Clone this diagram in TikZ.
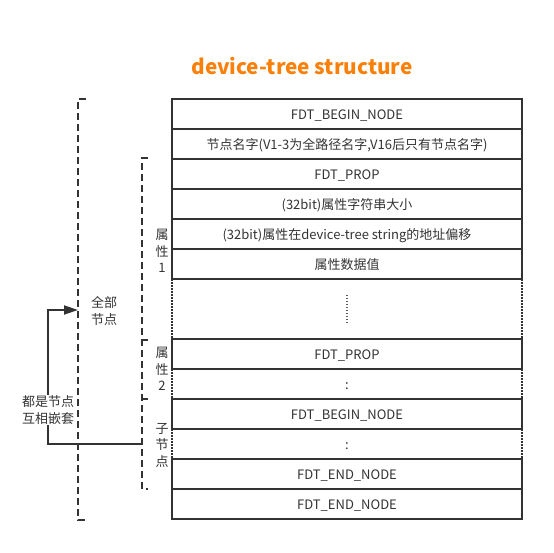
\documentclass[tikz,border=0pt]{standalone}
\usepackage{fontspec}
\setmainfont{Noto Sans CJK SC}
\usetikzlibrary{arrows.meta}
\definecolor{ink}{RGB}{51,51,51}
\definecolor{titleorange}{RGB}{250,128,10}
\begin{document}
\begin{tikzpicture}[x=1pt,y=-1pt,
  txt/.style={font=\fontsize{13}{16.5}\selectfont,text=ink,inner sep=1pt,align=center},
  row/.style={txt,minimum width=350pt,minimum height=30pt,inner sep=0pt,outer sep=0pt,anchor=north west,text height=11pt,text depth=0pt},
  solidrow/.style={row,draw=ink,line width=1.8pt},
  sidedot/.style={draw=ink,line width=1.6pt,dash pattern=on 2pt off 1pt},
  middots/.style={draw=ink!80,line width=1.2pt,dash pattern=on 1.2pt off 1.8pt},
  bracket/.style={draw=ink,line width=1.8pt,dash pattern=on 7pt off 4pt},
  link/.style={draw=ink,line width=1.8pt,-{Triangle[length=14pt,width=9pt]}}]
\useasboundingbox (0,0) rectangle (554,553);
% title
\node[font=\fontsize{20.7}{22}\selectfont\bfseries,text=titleorange] (title) at (302,66) {device-tree structure};
% rows
\node[solidrow] (r1) at (172,99) {FDT\_BEGIN\_NODE};
\node[solidrow] (r2) at (172,129) {节点名字(V1-3为全路径名字,V16后只有节点名字)};
\node[solidrow] (r3) at (172,159) {FDT\_PROP};
\node[solidrow] (r4) at (172,189) {(32bit)属性字符串大小};
\node[solidrow] (r5) at (172,219) {(32bit)属性在device-tree string的地址偏移};
\node[solidrow] (r6) at (172,249) {属性数据值};
\node[row,minimum height=60pt] (r7) at (172,279) {};
\node[solidrow] (r8) at (172,339) {FDT\_PROP};
\node[row] (r9) at (172,369) {:};
\node[solidrow] (r10) at (172,399) {FDT\_BEGIN\_NODE};
\node[row] (r11) at (172,429) {:};
\node[solidrow] (r12) at (172,459) {FDT\_END\_NODE};
\node[solidrow] (r13) at (172,489) {FDT\_END\_NODE};
% dotted sides
\foreach \r in {r7,r9,r11}{
  \draw[sidedot] (\r.north west) -- (\r.south west);
  \draw[sidedot] (\r.north east) -- (\r.south east);
}
\draw[middots] ([yshift=14pt]r7.center) -- ([yshift=-15pt]r7.center);
% brackets
\draw[bracket] (86,99) -- (78,99) -- (78,520) -- (86,520);
\draw[bracket] (148,158) -- (142,158) -- (142,489) -- (148,489);
\draw[bracket] (142,340) -- (148,340);
\draw[bracket] (142,399) -- (148,399);
\coordinate (inA) at (142,444);
\coordinate (outA) at (78,310);
% labels
\node[txt] (p1) at (162,251) {属\\性\\1};
\node[txt] (p2) at (162,369) {属\\性\\2};
\node[txt] (sub) at (162,445) {子\\节\\点};
\node[txt] (all) at (104,311) {全部\\节点};
% nesting arrow
\draw[link] (inA) -| ([xshift=-30pt]outA) -- (outA);
\node[txt,fill=white] (nest) at (48,410) {都是节点\\互相嵌套};
\end{tikzpicture}
\end{document}
